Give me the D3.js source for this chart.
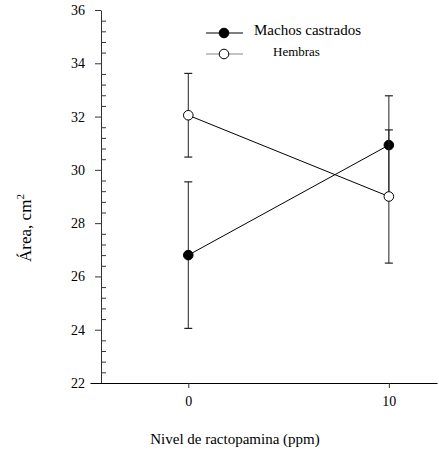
<!DOCTYPE html>
<html><head><meta charset="utf-8">
<script src="https://cdn.jsdelivr.net/npm/d3@7"></script>
<style>body{margin:0;background:#fff}svg{display:block}svg text{font-family:'Liberation Serif','Times New Roman',Times,serif !important;fill:#000}</style>
</head><body>
<svg id="c" width="439" height="464"></svg>
<script>
const levels = [0, 10];
const seriesNames = ["Machos castrados", "Hembras"];
const machosMean = [26.8, 30.93];
const machosErr = [2.75, 1.85];
const hembrasMean = [32.05, 29.0];
const hembrasErr = [1.57, 2.5];
const yTicks = [22, 24, 26, 28, 30, 32, 34, 36];
const xTicks = [0, 10];

const svg = d3.select("#c");
const x = d3.scaleLinear().domain([-4.9, 12.4]).range([90, 437]);
const y = d3.scaleLinear().domain([22, 36]).range([383, 10]);
const yAxisX = 101;

// minor y ticks (inside, right)
const minor = d3.range(22, 36.001, 0.4).filter(v => Math.abs(v / 2 - Math.round(v / 2)) > 1e-6);
svg.append("g").attr("transform", `translate(${yAxisX},0)`)
  .call(d3.axisRight(y).tickValues(minor).tickSize(5).tickFormat(""))
  .call(g => g.select(".domain").remove())
  .selectAll("line").attr("stroke", "#333");

// major y axis (outside, left)
const ya = svg.append("g").attr("transform", `translate(${yAxisX},0)`)
  .call(d3.axisLeft(y).tickValues(yTicks).tickSize(6).tickSizeOuter(0).tickPadding(10));
ya.attr("font-family", null).attr("font-size", null);
ya.select(".domain").attr("stroke", "#333");
ya.selectAll("line").attr("stroke", "#333");
ya.selectAll("text").style("font-size", "14px");

// x axis
const xa = svg.append("g").attr("transform", `translate(0,${y(22)})`)
  .call(d3.axisBottom(x).tickValues(xTicks).tickSize(5).tickSizeOuter(0).tickPadding(8));
xa.attr("font-family", null).attr("font-size", null);
xa.select(".domain").attr("stroke", "#000");
xa.selectAll("line").attr("stroke", "#333");
xa.selectAll("text").style("font-size", "14px");

// titles
svg.append("text").attr("x", 235).attr("y", 444).attr("text-anchor", "middle")
  .style("font-size", "15px").text("Nivel de ractopamina (ppm)");
const yt = svg.append("text").attr("transform", "translate(31,228) rotate(-90)")
  .attr("text-anchor", "middle").style("font-size", "17px");
yt.append("tspan").text("Área, cm");
yt.append("tspan").attr("dy", -7).style("font-size", "11px").text("2");

const series = [
  {name: seriesNames[0], mean: machosMean, err: machosErr, fill: "#000"},
  {name: seriesNames[1], mean: hembrasMean, err: hembrasErr, fill: "#fff"}
];
const cap = 4;
series.forEach(s => {
  const pts = levels.map((l, i) => ({x: l, m: s.mean[i], e: s.err[i]}));
  const g = svg.append("g");
  pts.forEach(p => {
    g.append("line").attr("x1", x(p.x)).attr("x2", x(p.x))
      .attr("y1", y(p.m - p.e)).attr("y2", y(p.m + p.e)).attr("stroke", "#222").attr("stroke-width", 1);
    [p.m - p.e, p.m + p.e].forEach(v => g.append("line")
      .attr("x1", x(p.x) - cap).attr("x2", x(p.x) + cap)
      .attr("y1", y(v)).attr("y2", y(v)).attr("stroke", "#222").attr("stroke-width", 1.2));
  });
  g.append("path").datum(pts)
    .attr("d", d3.line().x(d => x(d.x)).y(d => y(d.m)))
    .attr("fill", "none").attr("stroke", "#000").attr("stroke-width", 1);
  s.g = g; s.pts = pts;
});
series.forEach(s => {
  s.g.selectAll("circle").data(s.pts).join("circle")
    .attr("cx", d => x(d.x)).attr("cy", d => y(d.m)).attr("r", 4.8)
    .attr("fill", s.fill).attr("stroke", "#000").attr("stroke-width", 1);
});

// legend
const leg = [{y: 33, fill: "#000", line: "#000", tx: 254}, {y: 54, fill: "#fff", line: "#888", tx: 273}];
leg.forEach((l, i) => {
  svg.append("line").attr("x1", 206).attr("x2", 243).attr("y1", l.y).attr("y2", l.y)
    .attr("stroke", l.line).attr("stroke-width", 1.2);
  svg.append("circle").attr("cx", 224).attr("cy", l.y).attr("r", 4.8)
    .attr("fill", l.fill).attr("stroke", "#000");
  svg.append("text").attr("x", l.tx).attr("y", l.y - 1)
    .style("font-size", i === 0 ? "15px" : "13px").attr("dominant-baseline", "middle").text(seriesNames[i]);
});
</script>
</body></html>
